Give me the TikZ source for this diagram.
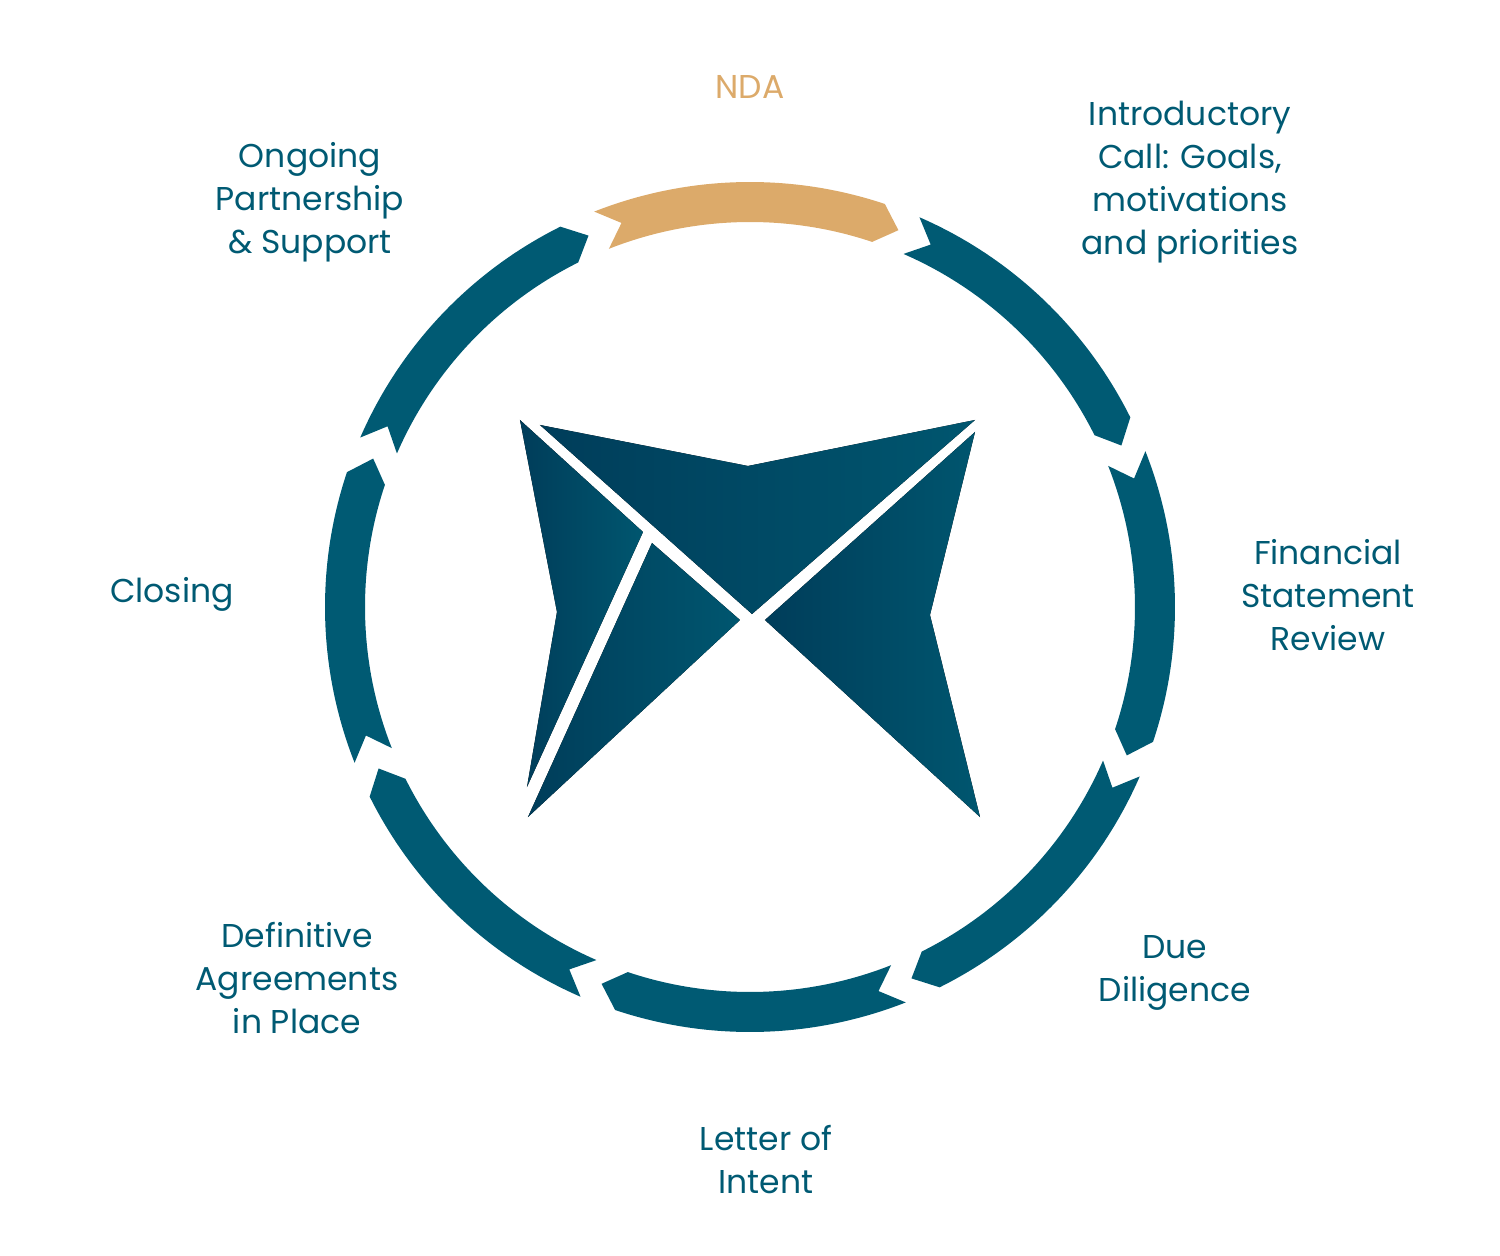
\documentclass[tikz,border=0pt]{standalone}
\usepackage{fontspec}
\setmainfont{Poppins}
\definecolor{ring}{HTML}{005A73}
\definecolor{gold}{HTML}{DCAA6A}
\definecolor{deep}{HTML}{003D5A}
\definecolor{mid}{HTML}{00566F}
\tikzset{
	every step/.style={
		align=center,
		text=ring,
		font=\fontsize{33}{43}\selectfont
	},
	step gold/.style={
		text=gold
	},
	logo piece/.style={
		left color=deep,
		right color=mid,
		draw=none
	},
}

\begin{document}
\begin{tikzpicture}[x=1pt, y=1pt]
\useasboundingbox (-750,-649) rectangle (750,607);

% ring of chevron segments, clockwise from the top
\foreach \c/\col in {90/gold, 45/ring, 0/ring, -45/ring, -90/ring, -135/ring, -180/ring, -225/ring}
	\fill [\col] (\c+21.5:425) arc (\c+21.5:\c-18.5:425)
		-- (\c-21.5:405) -- (\c-18.5:385) arc (\c-18.5:\c+21.5:385)
		-- (\c+18.5:405) -- cycle;

% centre mark
\fill [logo piece] (-210,182) -- (-2,141) -- (225,187) -- (2,-7) -- cycle;
\fill [logo piece] (225,175) -- (180,-8) -- (230,-210) -- (15,-13) -- cycle;
\fill [logo piece] (-230,187) -- (-107,75) -- (-223,-180) -- (-193,-5) -- cycle;
\fill [logo piece] (-98,64) -- (-10,-13) -- (-222,-210) -- cycle;

% labels
\node [every step/.try, step gold] (nda) at (0,520) {NDA};
\node [every step/.try] (intro) at (440,425) {Introductory\\Call: Goals,\\motivations\\and priorities};
\node [every step/.try] (review) at (578,12) {Financial\\Statement\\Review};
\node [every step/.try] (diligence) at (425,-366) {Due\\Diligence};
\node [every step/.try] (loi) at (16,-553) {Letter of\\Intent};
\node [every step/.try] (agreements) at (-453,-371) {Definitive\\Agreements\\in Place};
\node [every step/.try] (closing) at (-578,13) {Closing};
\node [every step/.try] (partnership) at (-440,405) {Ongoing\\Partnership\\\& Support};

\end{tikzpicture}
\end{document}
